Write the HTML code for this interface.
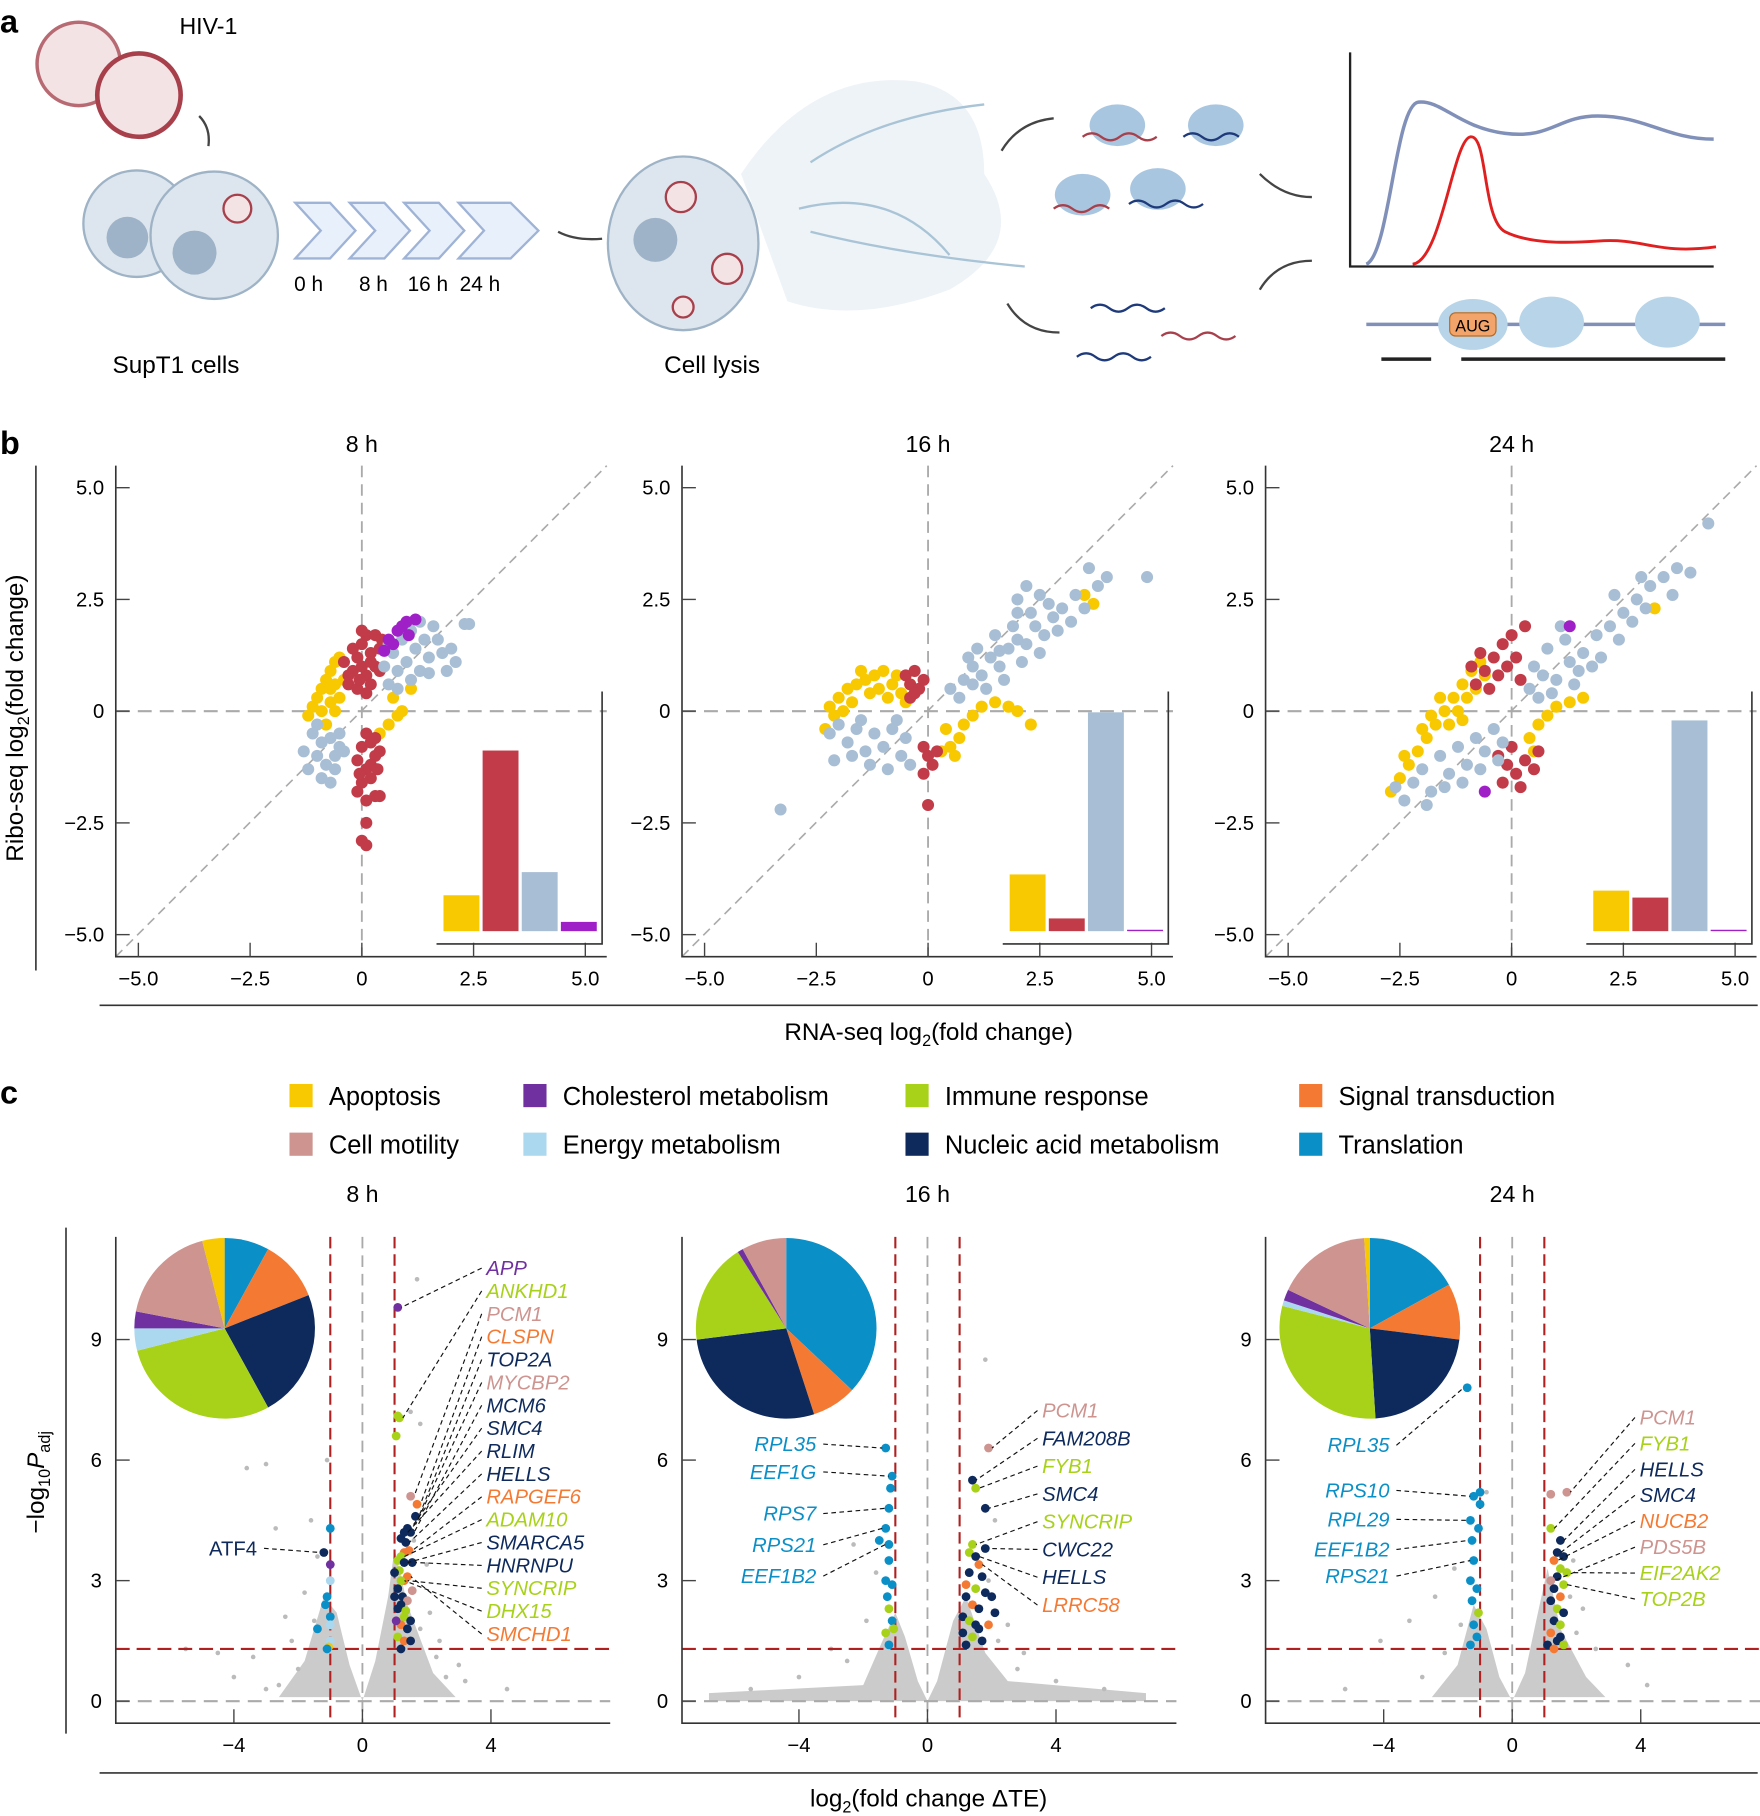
<!DOCTYPE html>
<html><head><meta charset="utf-8"><style>
html,body{margin:0;padding:0;background:#fff}
svg{display:block;font-family:"Liberation Sans",sans-serif}
</style></head><body>
<svg id="fig" width="1760" height="1816" viewBox="0 0 1520 1568" xmlns="http://www.w3.org/2000/svg">
<rect width="1520" height="1568" fill="#fff"/>
<g>
<text x="0" y="28" font-size="28" font-weight="bold">a</text>
<circle cx="68" cy="55" r="36" fill="#f3e3e5" stroke="#b86a73" stroke-width="3"/>
<circle cx="120" cy="82" r="36" fill="#f3e3e5" stroke="#a8404c" stroke-width="4"/>
<text x="155" y="29" font-size="20">HIV-1</text>
<path d="M172 100 q10 10 8 26" fill="none" stroke="#444" stroke-width="2"/>
<circle cx="118" cy="193" r="46" fill="#dde6ee" stroke="#9fb3c6" stroke-width="2"/>
<circle cx="110" cy="205" r="18" fill="#9fb3c8"/>
<circle cx="185" cy="203" r="55" fill="#dde6ee" stroke="#9fb3c6" stroke-width="2"/>
<circle cx="168" cy="218" r="19" fill="#9fb3c8"/>
<circle cx="205" cy="180" r="12" fill="#f3e3e5" stroke="#a8404c" stroke-width="2"/>
<g fill="#e8f0fb" stroke="#9fb3d6" stroke-width="2">
<path d="M255 175 h30 l22 24 l-22 24 h-30 l22 -24z"/>
<path d="M302 175 h30 l22 24 l-22 24 h-30 l22 -24z"/>
<path d="M349 175 h30 l22 24 l-22 24 h-30 l22 -24z"/>
<path d="M396 175 h45 l24 24 l-24 24 h-45 l22 -24z"/>
</g>
<g font-size="18">
<text x="254" y="251">0 h</text><text x="310" y="251">8 h</text><text x="352" y="251">16 h</text><text x="397" y="251">24 h</text>
</g>
<text x="152" y="322" font-size="21" text-anchor="middle">SupT1 cells</text>
<path d="M482 200 q15 8 38 6" fill="none" stroke="#444" stroke-width="2"/>
<path d="M640 150 q60 -90 150 -80 q60 10 60 80 q40 60 -30 100 q-80 30 -140 10z" fill="#eef3f7"/>
<ellipse cx="590" cy="210" rx="65" ry="75" fill="#dde6ee" stroke="#9fb3c6" stroke-width="2"/>
<circle cx="566" cy="207" r="19" fill="#9fb3c8"/>
<circle cx="588" cy="170" r="13" fill="#f3e3e5" stroke="#a8404c" stroke-width="2"/>
<circle cx="628" cy="232" r="13" fill="#f3e3e5" stroke="#a8404c" stroke-width="2"/>
<circle cx="590" cy="265" r="9" fill="#f3e3e5" stroke="#a8404c" stroke-width="2"/>
<path d="M700 140 q60 -40 150 -50 M690 180 q80 -20 130 40 M700 200 q80 20 185 30" fill="none" stroke="#a9c4d6" stroke-width="2"/>
<text x="615" y="322" font-size="21" text-anchor="middle">Cell lysis</text>
<path d="M865 130 q15 -25 45 -28 M870 262 q15 25 45 25" fill="none" stroke="#444" stroke-width="2"/>
<g fill="#a9c6e0">
<ellipse cx="965" cy="108" rx="24" ry="18"/><ellipse cx="1050" cy="108" rx="24" ry="18"/>
<ellipse cx="935" cy="168" rx="24" ry="18"/><ellipse cx="1000" cy="163" rx="24" ry="18"/>
</g>
<g fill="none" stroke-width="2">
<path d="M935 118 q8 -6 16 0 t16 0 t16 0 t16 0" stroke="#a8404c"/><path d="M1022 118 q8 -6 16 0 t16 0 t16 0" stroke="#1e3a7a"/>
<path d="M910 180 q8 -6 16 0 t16 0 t16 0" stroke="#a8404c"/><path d="M975 176 q8 -6 16 0 t16 0 t16 0 t16 0" stroke="#1e3a7a"/>
<path d="M942 266 q8 -6 16 0 t16 0 t16 0 t16 0" stroke="#1e3a7a"/><path d="M1003 290 q8 -6 16 0 t16 0 t16 0 t16 0" stroke="#a8404c"/>
<path d="M930 308 q8 -6 16 0 t16 0 t16 0 t16 0" stroke="#1e3a7a"/>
</g>
<path d="M1088 150 q20 20 45 20 M1088 250 q15 -25 45 -25" fill="none" stroke="#444" stroke-width="2"/>
<path d="M1166 45 V230 H1480" fill="none" stroke="#222" stroke-width="2"/>
<path d="M1180 228 C1200 220 1205 90 1225 88 C1245 86 1260 110 1300 115 C1340 120 1345 100 1380 100 C1420 100 1440 120 1480 120" fill="none" stroke="#8090b8" stroke-width="3"/>
<path d="M1220 228 C1245 225 1255 120 1270 118 C1285 116 1280 190 1300 200 C1320 210 1350 210 1380 208 C1420 205 1430 220 1482 213" fill="none" stroke="#e02020" stroke-width="2.5"/>
<line x1="1180" y1="280" x2="1490" y2="280" stroke="#8090b8" stroke-width="3"/>
<ellipse cx="1272" cy="280" rx="30" ry="22" fill="#b8d4e8"/><ellipse cx="1340" cy="278" rx="28" ry="22" fill="#b8d4e8"/><ellipse cx="1440" cy="278" rx="28" ry="22" fill="#b8d4e8"/>
<rect x="1252" y="270" width="40" height="20" rx="5" fill="#f2a46a" stroke="#b86a20"/>
<text x="1272" y="286" font-size="14" text-anchor="middle">AUG</text>
<line x1="1193" y1="310" x2="1236" y2="310" stroke="#222" stroke-width="3"/><line x1="1262" y1="310" x2="1490" y2="310" stroke="#222" stroke-width="3"/>
</g>
<g id="root"></g>
</svg>
<script>
// ---------- DATA ----------
const catColors = ["#f8c800","#7030a0","#a8d11a","#f47a33","#cd9490","#acd8ef","#0e2a5c","#0b8fc7"];
const catNames = ["Apoptosis","Cholesterol metabolism","Immune response","Signal transduction","Cell motility","Energy metabolism","Nucleic acid metabolism","Translation"];
const bTimes = ["8 h","16 h","24 h"];
const bTicks = [-5.0,-2.5,0,2.5,5.0];
const bTickLabels = ["\u22125.0","\u22122.5","0","2.5","5.0"];
const clusterColors = {yellow:"#f8c800",red:"#c23b48",blue:"#a8bed4",purple:"#a020c8"};
const b8Red = [[-0.3,0.6],[-0.2,0.9],[-0.1,1.2],[0,1.5],[0.1,1.7],[0.2,1.3],[0.3,1.0],[0.1,0.8],[-0.1,0.5],[0.2,0.6],[0.4,1.4],[0.3,1.7],[-0.2,1.4],[0,1.0],[0.4,0.9],[0.1,0.4],[-0.4,1.1],[0.2,1.1],[-0.3,0.8],[0.45,1.6],[0,1.8],[-0.05,0.7],[0,-0.8],[0.1,-0.5],[0.2,-0.7],[0.3,-1.0],[-0.1,-1.1],[0.1,-1.3],[0.2,-1.5],[0,-1.6],[-0.1,-1.8],[0.3,-1.9],[0.1,-2.0],[0.4,-1.9],[0.1,-2.5],[0,-2.9],[0.1,-3.0],[0.3,-0.6],[0.4,-0.9],[0.2,-1.2],[-0.05,-1.4],[0.35,-1.3]];
const b8Yellow = [[-1.1,0.1],[-1.0,0.3],[-0.9,0.5],[-0.8,0.7],[-0.7,0.9],[-0.6,1.1],[-0.5,1.2],[-0.6,0.6],[-0.5,0.3],[-0.7,0.2],[-0.9,0],[-0.8,-0.3],[-1.2,-0.1],[-0.6,0],[-0.4,0.7],[-0.7,0.5],[0.4,-0.5],[0.6,-0.3],[0.8,-0.1],[0.9,0],[0.7,0.3],[1.1,0.5],[0.3,-0.6]];
const b8Blue = [[0.6,0.6],[0.8,0.9],[1.0,1.1],[1.2,1.4],[1.4,1.6],[1.6,1.9],[0.7,1.3],[0.9,1.6],[1.1,1.8],[1.3,2.0],[1.7,1.6],[2.0,1.4],[2.1,1.1],[1.9,0.9],[1.5,1.2],[0.8,0.5],[1.1,0.7],[2.3,1.95],[2.4,1.95],[1.3,0.9],[0.5,1.0],[1.8,1.3],[1.5,0.85],[0.6,1.5],[-1.1,-0.5],[-0.9,-0.7],[-0.7,-0.6],[-0.5,-0.8],[-1.3,-0.9],[-1.0,-1.0],[-0.8,-1.2],[-0.6,-1.3],[-0.7,-1.6],[-1.2,-1.3],[-0.5,-0.5],[-0.9,-1.5],[-0.6,-1.0],[-0.4,-0.9],[-1.0,-0.3]];
const b8Purple = [[0.6,1.6],[0.8,1.8],[1.0,2.0],[1.2,2.05],[0.9,1.9],[0.7,1.5],[0.5,1.35],[1.05,1.7]];
const b16Blue = [[0.5,0.5],[0.8,0.7],[1.0,1.0],[1.2,0.8],[1.4,1.2],[1.6,1.0],[1.8,1.4],[2.0,1.6],[2.2,1.5],[2.4,1.9],[2.6,1.7],[2.8,2.1],[3.0,2.3],[3.2,2.0],[1.1,1.4],[1.5,1.7],[1.9,1.9],[2.3,2.2],[2.7,2.4],[1.3,0.5],[1.7,0.7],[2.1,1.1],[2.5,1.3],[0.9,1.2],[2.0,2.5],[2.2,2.8],[3.5,2.3],[3.8,2.8],[3.6,3.2],[4.0,3.0],[4.9,3.0],[2.5,2.6],[1.6,1.35],[2.9,1.8],[0.7,0.3],[1.0,0.6],[3.3,2.6],[2.0,2.2],[-2.2,-0.5],[-2.0,-0.3],[-1.8,-0.7],[-1.6,-0.4],[-1.4,-0.9],[-1.2,-0.5],[-1.0,-0.8],[-0.8,-0.4],[-0.6,-1.0],[-0.5,-0.6],[-1.7,-1.0],[-1.3,-1.2],[-0.9,-1.3],[-2.1,-1.1],[-0.7,-0.2],[-1.5,-0.2],[-3.3,-2.2],[-0.4,-1.2]];
const b16Yellow = [[-2.2,0.1],[-2.0,0.3],[-1.8,0.5],[-1.6,0.6],[-1.4,0.7],[-1.2,0.8],[-1.0,0.9],[-0.8,0.6],[-0.6,0.4],[-0.9,0.3],[-1.3,0.4],[-1.7,0.2],[-2.1,-0.1],[-1.1,0.5],[-0.5,0.2],[-1.5,0.9],[-0.7,0.8],[-1.9,0],[-0.4,0.6],[-2.3,-0.4],[0.4,-0.4],[0.5,-0.8],[0.6,-1.0],[0.7,-0.6],[0.8,-0.3],[1.0,-0.1],[1.2,0.1],[1.5,0.2],[1.8,0.1],[2.0,0],[2.3,-0.3],[0.3,-0.9],[3.5,2.6],[3.7,2.4]];
const b16Red = [[-0.5,0.8],[-0.4,0.6],[-0.3,0.9],[-0.2,0.5],[-0.4,0.3],[-0.1,0.7],[-0.3,0.4],[-0.1,-0.8],[0,-1.0],[0.1,-1.2],[-0.1,-1.4],[0.2,-0.9],[0,-2.1]];
const b16Purple = [];
const b24Yellow = [[-2.7,-1.8],[-2.5,-1.5],[-2.3,-1.2],[-2.1,-0.9],[-1.9,-0.6],[-1.7,-0.3],[-1.5,0],[-1.3,0.3],[-1.1,0.6],[-0.9,0.9],[-0.7,1.1],[-1.6,0.3],[-1.2,0],[-1.4,-0.3],[-1.0,0.3],[-1.8,-0.1],[-2.0,-0.4],[-0.8,0.5],[-0.6,0.8],[-2.4,-1.0],[-1.1,-0.2],[0.4,-0.6],[0.6,-0.3],[0.8,-0.1],[1.0,0.1],[1.3,0.2],[1.6,0.3],[0.5,-0.9],[3.2,2.3]];
const b24Red = [[-0.8,0.6],[-0.6,0.9],[-0.4,1.2],[-0.2,1.5],[0,1.7],[-0.7,1.3],[-0.3,0.8],[-0.5,0.5],[0.1,1.2],[0.2,0.7],[-0.1,1.0],[0.3,1.9],[-0.9,1.0],[-0.3,-1.0],[-0.1,-1.2],[0.1,-1.4],[0.3,-1.1],[0.5,-1.3],[-0.2,-1.6],[0.2,-1.7],[0.6,-0.9],[0,-0.8]];
const b24Blue = [[0.4,0.5],[0.7,0.8],[1.0,0.7],[1.3,1.1],[1.6,1.3],[1.9,1.7],[2.2,1.9],[2.5,2.2],[2.8,2.5],[3.1,2.8],[3.4,3.0],[3.7,3.2],[4.0,3.1],[0.8,1.4],[1.2,1.6],[1.5,0.9],[2.0,1.2],[2.4,1.6],[2.7,2.0],[3.0,2.3],[0.5,1.0],[1.1,1.9],[1.8,1.0],[2.3,2.6],[2.9,3.0],[3.6,2.6],[4.4,4.2],[0.6,0.3],[1.4,0.6],[0.9,0.4],[-2.4,-2.0],[-2.2,-1.6],[-2.0,-1.3],[-1.8,-1.8],[-1.6,-1.0],[-1.4,-1.4],[-1.2,-0.8],[-1.0,-1.2],[-0.8,-0.6],[-0.6,-0.9],[-0.4,-0.4],[-0.2,-0.7],[-1.5,-1.7],[-1.1,-1.6],[-0.7,-1.3],[-1.9,-2.1],[-0.3,-1.1],[-2.6,-1.7]];
const b24Purple = [[1.3,1.9],[-0.6,-1.8]];
const inset8 = [31,156,51,8];
const inset16 = [49,11,189,1];
const inset24 = [35,29,182,1];

const vTicksX = [-4,0,4];
const vTickXLabels = ["\u22124","0","4"];
const vTicksY = [0,3,6,9];
const pie8 = [0.08,0.11,0.23,0.29,0.04,0.03,0.18,0.04];
const pie16 = [0.37,0.08,0.28,0.18,0,0.01,0.08,0];
const pie24 = [0.17,0.10,0.22,0.30,0.01,0.02,0.17,0.01];
const pieOrder = [7,3,6,2,5,1,4,0];
const grayEnv8 = [[-2.6,0.1],[-1.8,1.0],[-1.2,2.6],[-0.8,2.2],[-0.4,0.9],[0,0],[0.4,1.0],[0.8,2.6],[1.0,3.8],[1.4,2.4],[2.2,0.7],[2.9,0.1]];
const grayEnv16 = [[-6.8,0],[-6.8,0.2],[-2,0.4],[-1.4,1.5],[-1.0,2.2],[-0.7,1.6],[-0.3,0.5],[0,0],[0.3,0.5],[0.8,2.0],[1.2,2.6],[1.8,1.2],[2.5,0.5],[6.8,0.2],[6.8,0]];
const grayEnv24 = [[-2.5,0.1],[-1.7,0.9],[-1.2,2.4],[-0.8,1.8],[-0.4,0.6],[0,0],[0.4,0.7],[0.8,2.2],[1.1,3.3],[1.5,1.8],[2.3,0.6],[2.9,0.1]];
const gray8 = [[-3.6,5.8],[-3.0,5.9],[-2.7,4.3],[-4.5,1.2],[-5.5,1.3],[-2.4,2.1],[-1.8,2.7],[-1.6,4.5],[-1.4,3.6],[-2.0,0.8],[-3.4,1.1],[-2.6,0.4],[2.0,3.4],[2.3,1.1],[2.6,0.6],[3.2,0.5],[1.8,6.9],[1.7,10.5],[1.5,7.2],[1.6,4.0],[2.1,2.2],[-4.0,0.6],[-1.1,6.0],[4.5,0.3],[-2.2,1.5],[-1.5,2.0],[1.8,1.8],[2.4,1.5],[-3.0,0.3],[3.0,0.9]];
const gray16 = [[1.8,8.5],[2.1,4.5],[-2.3,3.9],[-1.9,2.0],[2.5,1.9],[3.0,1.2],[-3.0,1.3],[-4.0,0.6],[4.0,0.5],[-5.5,0.3],[5.5,0.3],[-1.6,3.2],[1.9,3.0],[2.8,0.8],[-2.5,1.0],[2.2,1.5]];
const gray24 = [[-4.1,1.5],[-3.2,2.0],[-2.4,2.6],[-1.8,3.3],[-1.6,1.9],[2.2,2.3],[2.6,1.3],[3.6,0.9],[1.9,3.5],[4.2,0.4],[-2.8,0.6],[-0.8,5.2],[2.0,1.7],[-5.2,0.3],[-2.1,1.2],[1.8,2.6]];
const v8Pts = [[1.1,9.8,1],[1.1,7.1,2],[1.15,7.05,2],[1.05,6.6,2],[1.5,5.1,4],[1.7,4.9,3],[1.65,4.6,6],[1.4,4.3,6],[1.3,4.2,6],[1.2,4.05,6],[1.35,3.95,6],[1.5,4.2,6],[1.3,3.7,3],[1.45,3.75,3],[1.2,3.6,2],[1.1,3.5,2],[1.3,3.45,6],[1.55,3.45,6],[1.4,3.1,3],[1.3,3.0,3],[1.2,3.0,2],[1.1,2.8,6],[1.25,2.6,6],[1.4,2.5,4],[1.0,2.6,6],[1.1,2.3,6],[1.3,2.1,2],[1.2,1.9,3],[1.4,1.8,6],[1.1,1.6,2],[1.3,1.5,3],[1.5,1.5,6],[1.2,1.3,6],[1.05,2.0,1],[1.2,2.4,6],[1.35,2.25,2],[1.55,2.75,4],[1.15,3.25,2],[1.5,2.0,6],[1.0,3.2,6],[-1.2,3.7,6],[-1.0,4.3,7],[-1.0,3.4,1],[-1.0,3.0,5],[-1.1,2.6,7],[-1.15,2.4,7],[-1.0,2.1,7],[-1.0,1.9,5],[-1.4,1.8,7],[-1.0,1.5,5],[-1.05,1.35,0],[-1.1,1.3,7]];
const v16Pts = [[1.9,6.3,4],[1.4,5.5,6],[1.5,5.3,2],[1.8,4.8,6],[1.4,3.9,2],[1.3,3.7,2],[1.8,3.8,6],[1.5,3.6,6],[1.6,3.4,3],[1.3,3.2,6],[1.7,3.1,6],[1.2,2.9,3],[1.5,2.8,2],[1.8,2.7,6],[1.2,2.6,6],[1.4,2.4,3],[1.6,2.3,6],[2.1,2.2,6],[1.1,2.1,6],[1.3,2.0,2],[1.5,1.9,6],[1.9,1.9,3],[1.1,1.7,6],[1.4,1.6,2],[1.7,1.5,6],[1.2,1.4,6],[1.6,1.8,6],[2.0,2.6,6],[-1.3,6.3,7],[-1.1,5.6,7],[-1.15,5.3,7],[-1.2,4.8,7],[-1.3,4.3,7],[-1.5,4.0,7],[-1.2,3.9,7],[-1.2,3.5,7],[-1.3,3.0,7],[-1.1,2.9,7],[-1.25,2.6,7],[-1.2,2.3,2],[-1.1,2.0,7],[-1.3,1.7,2],[-1.2,1.4,7],[-1.05,1.8,2]];
const v24Pts = [[1.7,5.2,4],[1.2,5.15,4],[1.2,4.3,2],[1.5,4.0,6],[1.4,3.7,6],[1.6,3.6,6],[1.3,3.5,3],[1.5,3.3,2],[1.7,3.2,2],[1.4,3.1,6],[1.2,3.0,4],[1.6,2.9,2],[1.3,2.8,6],[1.5,2.6,3],[1.2,2.5,6],[1.4,2.3,2],[1.6,2.2,6],[1.3,2.0,6],[1.5,1.9,2],[1.2,1.7,3],[1.4,1.5,6],[1.6,1.4,2],[1.1,1.4,6],[1.3,1.3,3],[1.5,1.6,6],[-1.4,7.8,7],[-1.0,5.2,7],[-1.2,5.1,7],[-1.0,4.9,7],[-1.3,4.5,7],[-1.05,4.3,7],[-1.25,4.0,7],[-1.2,3.5,7],[-1.3,3.0,7],[-1.1,2.8,7],[-1.25,2.5,7],[-1.05,2.2,2],[-1.2,1.9,7],[-1.1,1.6,7],[-1.3,1.4,7]];
const lab8R = [["APP",1,1.1,9.8],["ANKHD1",2,1.15,7.05],["PCM1",4,1.5,5.1],["CLSPN",3,1.7,4.9],["TOP2A",6,1.65,4.6],["MYCBP2",4,1.55,4.4],["MCM6",6,1.5,4.2],["SMC4",6,1.4,4.3],["RLIM",6,1.3,4.2],["HELLS",6,1.35,3.95],["RAPGEF6",3,1.45,3.75],["ADAM10",2,1.2,3.6],["SMARCA5",6,1.3,3.45],["HNRNPU",6,1.55,3.45],["SYNCRIP",2,1.3,3.0],["DHX15",2,1.2,3.0],["SMCHD1",3,1.4,3.1]];
const lab8L = [["ATF4",6,-1.2,3.7]];
const lab16R = [["PCM1",4,1.9,6.3],["FAM208B",6,1.4,5.5],["FYB1",2,1.5,5.3],["SMC4",6,1.8,4.8],["SYNCRIP",2,1.4,3.9],["CWC22",6,1.8,3.8],["HELLS",6,1.5,3.6],["LRRC58",3,1.6,3.4]];
const lab16L = [["RPL35",7,-1.3,6.3],["EEF1G",7,-1.1,5.6],["RPS7",7,-1.2,4.8],["RPS21",7,-1.3,4.3],["EEF1B2",7,-1.2,3.9]];
const lab24R = [["PCM1",4,1.7,5.2],["FYB1",2,1.2,4.3],["HELLS",6,1.5,4.0],["SMC4",6,1.4,3.7],["NUCB2",3,1.3,3.5],["PDS5B",4,1.2,3.0],["EIF2AK2",2,1.7,3.2],["TOP2B",2,1.6,2.9]];
const lab24L = [["RPL35",7,-1.4,7.8],["RPS10",7,-1.2,5.1],["RPL29",7,-1.3,4.5],["EEF1B2",7,-1.25,4.0],["RPS21",7,-1.2,3.5]];

// ---------- DRAW ----------
const NS = "http://www.w3.org/2000/svg";
const root = document.getElementById('root');
function mk(tag, attrs, parent, text){
  const e = document.createElementNS(NS, tag);
  for (const k in attrs) e.setAttribute(k, attrs[k]);
  if (text !== undefined) e.textContent = text;
  (parent || root).appendChild(e);
  return e;
}
let el;
el = mk('text',{x:0,y:392,'font-size':28,'font-weight':'bold'},root,'b');


const bOrigins = [100,589,1093];
const bSets = [[b8Yellow,b8Red,b8Blue,b8Purple],[b16Yellow,b16Red,b16Blue,b16Purple],[b24Yellow,b24Red,b24Blue,b24Purple]];
const insets = [inset8,inset16,inset24];
const bKeys = ["yellow","red","blue","purple"];
bOrigins.forEach((ax,pi)=>{
  const g = mk('g',{});
  
  
  const x0 = ax + 212.5, y0 = 614, u = 38.6;
  const sx = v => x0 + v*u, sy = v => y0 - v*u;
  el = mk('text',{x:sx(0),y:390,'font-size':20,'text-anchor':'middle'},g,bTimes[pi]);
  
  
  el = mk('line',{x1:sx(0),y1:402,x2:sx(0),y2:826,stroke:'#aaa','stroke-width':1.6,'stroke-dasharray':'10 6'},g);
  
  
  el = mk('line',{x1:ax,y1:sy(0),x2:ax+424,y2:sy(0),stroke:'#aaa','stroke-width':1.8,'stroke-dasharray':'12 7'},g);
  
  
  el = mk('line',{x1:ax,y1:826,x2:ax+424,y2:402,stroke:'#aaa','stroke-width':1.4,'stroke-dasharray':'8 5'},g);
  
  
  bSets[pi].forEach((set,ci)=>{
    set.forEach(p=>{
      el = mk('circle',{cx:sx(p[0]),cy:sy(p[1]),r:5.2,fill:clusterColors[bKeys[ci]]},g);
      
      
    });
  });
  el = mk('path',{d:`M${ax} 402 V826 H${ax+424}`,fill:'none',stroke:'#333','stroke-width':1.4},g);
  
  
  bTicks.forEach((t,i)=>{
    el = mk('line',{x1:ax,y1:sy(t),x2:ax+12,y2:sy(t),stroke:'#444','stroke-width':1.2},g);
    
    
    el = mk('text',{x:ax-10,y:sy(t)+6,'font-size':17.5,'text-anchor':'end'},g,bTickLabels[i]);
    
    
    el = mk('line',{x1:sx(t),y1:826,x2:sx(t),y2:814,stroke:'#444','stroke-width':1.2},g);
    
    
    el = mk('text',{x:sx(t),y:851,'font-size':17.5,'text-anchor':'middle'},g,bTickLabels[i]);
    
    
  });
  const rx = ax+420, base = 804;
  el = mk('path',{d:`M${rx} 597 V815 H${rx-143}`,fill:'none',stroke:'#333','stroke-width':1.4},g);
  
  
  insets[pi].forEach((v,i)=>{
    const h = Math.max(v,1.2);
    el = mk('rect',{x:rx-137+i*33.8,y:base-h,width:31,height:h,fill:clusterColors[bKeys[i]]},g);
    
    
  });
});
el = mk('text',{x:0,y:0,'font-size':21,'text-anchor':'middle',transform:'translate(20 620) rotate(-90)'},root);


el.innerHTML = 'Ribo-seq log<tspan font-size="14" dy="5">2</tspan><tspan dy="-5">(fold change)</tspan>';
el = mk('line',{x1:31,y1:402,x2:31,y2:838,stroke:'#333','stroke-width':1.4});


el = mk('line',{x1:86,y1:868,x2:1518,y2:868,stroke:'#333','stroke-width':1.4});


el = mk('text',{x:802,y:898,'font-size':21,'text-anchor':'middle'});


el.innerHTML = 'RNA-seq log<tspan font-size="14" dy="5">2</tspan><tspan dy="-5">(fold change)</tspan>';

el = mk('text',{x:0,y:953,'font-size':28,'font-weight':'bold'},root,'c');


const legX = [250,452,782,1122];
const legOrder = [0,1,2,3,4,5,6,7];
legOrder.forEach((c,i)=>{
  const col = i%4, row = Math.floor(i/4);
  const g = mk('g',{});
  
  
  el = mk('rect',{x:legX[col],y:936+row*42,width:20,height:20,fill:catColors[c]},g);
  
  
  el = mk('text',{x:legX[col]+34,y:954+row*42,'font-size':22},g,catNames[c]);
  
  
});
const vOrigins = [100,589,1093];
const vZero = [313,801,1306];
const pies = [pie8,pie16,pie24];
const envs = [grayEnv8,grayEnv16,grayEnv24];
const grays = [gray8,gray16,gray24];
const vPts = [v8Pts,v16Pts,v24Pts];
const labR = [lab8R,lab16R,lab24R];
const labL = [lab8L,lab16L,lab24L];
const labRPos = [[420,1095,19.75],[900,1218,24],[1416,1224,22.4]];
const labLY = [[1337],[1247,1271,1307,1334,1361],[1248,1287,1312,1338,1361]];
const labLX = [222,705,1200];
const pieC = [[194,1147],[679,1147],[1183,1147]];
vOrigins.forEach((ax,pi)=>{
  const g = mk('g',{});
  
  
  const x0 = vZero[pi], y0 = 1469, ux = 27.75, uy = 34.7;
  const sx = v => x0 + v*ux, sy = v => y0 - v*uy;
  el = mk('text',{x:x0,y:1038,'font-size':20,'text-anchor':'middle'},g,bTimes[pi]);
  
  
  el = mk('polygon',{points:envs[pi].map(p=>sx(p[0])+','+sy(p[1])).join(' '),fill:'#c2c2c2','fill-opacity':0.85},g);
  
  
  grays[pi].forEach(p=>{
    el = mk('circle',{cx:sx(p[0]),cy:sy(p[1]),r:2,fill:'#bbb'},g);
    
    
  });
  el = mk('line',{x1:sx(0),y1:1068,x2:sx(0),y2:1488,stroke:'#aaa','stroke-width':1.6,'stroke-dasharray':'10 6'},g);
  
  
  el = mk('line',{x1:ax,y1:sy(0),x2:ax+427,y2:sy(0),stroke:'#aaa','stroke-width':1.8,'stroke-dasharray':'12 7'},g);
  
  
  [-1,1].forEach(t=>{
    el = mk('line',{x1:sx(t),y1:1068,x2:sx(t),y2:1488,stroke:'#b02020','stroke-width':1.8,'stroke-dasharray':'10 5'},g);
    
    
  });
  el = mk('line',{x1:ax,y1:sy(1.3),x2:ax+427,y2:sy(1.3),stroke:'#b02020','stroke-width':1.8,'stroke-dasharray':'12 6'},g);
  
  
  vPts[pi].forEach(p=>{
    el = mk('circle',{cx:sx(p[0]),cy:sy(p[1]),r:3.8,fill:catColors[p[2]]},g);
    
    
  });
  const [lx,ly,ls] = labRPos[pi];
  labR[pi].forEach((L,i)=>{
    const y = ly + i*ls;
    el = mk('line',{x1:lx-4,y1:y,x2:sx(L[2])+3,y2:sy(L[3]),stroke:'#111','stroke-width':1,'stroke-dasharray':'4 3'},g);
    
    
    el = mk('text',{x:lx,y:y+6,'font-size':17.5,'font-style':'italic',fill:catColors[L[1]]},g,L[0]);
    
    
  });
  labL[pi].forEach((L,i)=>{
    const y = labLY[pi][i];
    el = mk('line',{x1:labLX[pi]+6,y1:y,x2:sx(L[2])-3,y2:sy(L[3]),stroke:'#111','stroke-width':1,'stroke-dasharray':'4 3'},g);
    
    
    el = mk('text',{x:labLX[pi],y:y+6,'font-size':17.5,'font-style':pi===0?'normal':'italic','text-anchor':'end',fill:catColors[L[1]]},g,L[0]);
    
    
  });
  el = mk('path',{d:`M${ax} 1068 V1488 H${ax+427}`,fill:'none',stroke:'#333','stroke-width':1.4},g);
  
  
  vTicksY.forEach(t=>{
    el = mk('line',{x1:ax,y1:sy(t),x2:ax+12,y2:sy(t),stroke:'#444','stroke-width':1.2},g);
    
    
    el = mk('text',{x:ax-12,y:sy(t)+6,'font-size':17.5,'text-anchor':'end'},g,String(t));
    
    
  });
  vTicksX.forEach((t,i)=>{
    el = mk('line',{x1:sx(t),y1:1488,x2:sx(t),y2:1476,stroke:'#444','stroke-width':1.2},g);
    
    
    el = mk('text',{x:sx(t),y:1513,'font-size':17.5,'text-anchor':'middle'},g,vTickXLabels[i]);
    
    
  });
  const [cx,cy] = pieC[pi], r = 78;
  let a = 0;
  pies[pi].forEach((f,i)=>{
    if (f <= 0) return;
    const a1 = a + f*2*Math.PI;
    const xA = cx + r*Math.sin(a), yA = cy - r*Math.cos(a);
    const xB = cx + r*Math.sin(a1), yB = cy - r*Math.cos(a1);
    el = mk('path',{d:`M${cx} ${cy} L${xA} ${yA} A${r} ${r} 0 ${f>0.5?1:0} 1 ${xB} ${yB} Z`,fill:catColors[pieOrder[i]]},g);
    
    
    a = a1;
  });
});
el = mk('text',{x:0,y:0,'font-size':21,'text-anchor':'middle',transform:'translate(38 1280) rotate(-90)'});


el.innerHTML = '\u2212log<tspan font-size="14" dy="5">10</tspan><tspan dy="-5" font-style="italic">P</tspan><tspan font-size="14" dy="5">adj</tspan>';
el = mk('line',{x1:57,y1:1060,x2:57,y2:1497,stroke:'#333','stroke-width':1.4});


el = mk('line',{x1:86,y1:1531,x2:1518,y2:1531,stroke:'#333','stroke-width':1.4});


el = mk('text',{x:802,y:1560,'font-size':21,'text-anchor':'middle'});


el.innerHTML = 'log<tspan font-size="14" dy="5">2</tspan><tspan dy="-5">(fold change \u0394TE)</tspan>';
</script>
</body></html>
